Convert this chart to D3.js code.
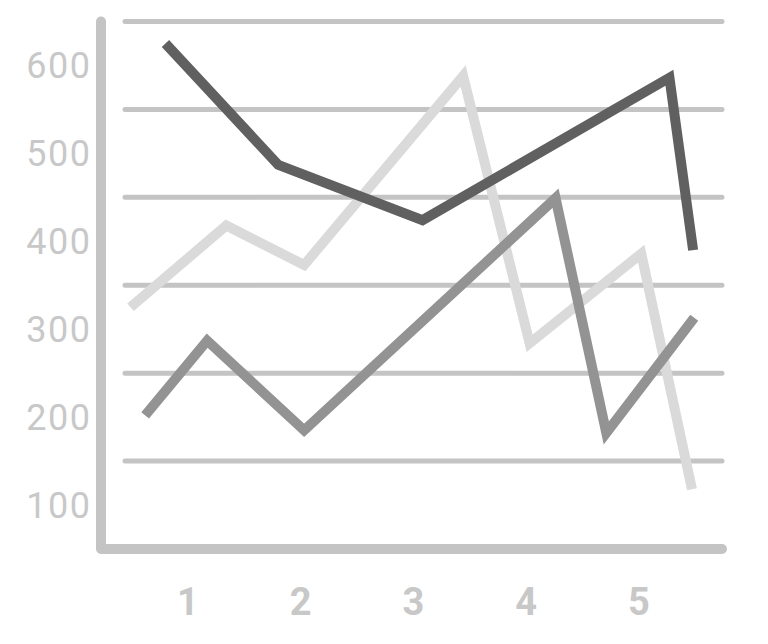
<!DOCTYPE html>
<html>
<head>
<meta charset="utf-8">
<script src="https://cdn.jsdelivr.net/npm/d3@7"></script>
<style>
  html, body { margin: 0; padding: 0; background: #ffffff; }
  svg { display: block; }
</style>
</head>
<body>
<script>
/* DATA */
var xTicks = [1, 2, 3, 4, 5];
var yTicks = [100, 200, 300, 400, 500, 600];
var gridValues = [150, 250, 350, 450, 550, 650];

var darkX = [0.8, 1.8, 3.08, 5.27, 5.48];
var darkY = [625, 487, 424, 586, 390];

var lightX = [0.49, 1.34, 2.03, 3.44, 4.03, 5.02, 5.47];
var lightY = [325, 418, 373, 588, 284, 386, 118];

var midX = [0.62, 1.17, 2.03, 4.26, 4.71, 5.49];
var midY = [202, 287, 185, 449, 182, 313];

/* LOOK */
var width = 768;
var height = 644;
var axisColor = '#c4c4c4';
var gridColor = '#c4c4c4';
var labelColor = '#c8c8c8';
var darkColor = '#606060';
var midColor = '#939393';
var lightColor = '#dadada';
var lineWidth = 10;

// plot frame (pixels)
var frameLeft = 101;
var frameRight = 722;
var gridLeft = 125;
var frameTop = 21.5;
var frameBottom = 549;

var x = d3.scaleLinear().domain([1, 5]).range([188, 639]);
var y = d3.scaleLinear().domain([50, 650]).range([frameBottom, frameTop]);

var svg = d3.select('body').append('svg')
    .attr('width', width)
    .attr('height', height);

svg.append('rect')
    .attr('width', width)
    .attr('height', height)
    .attr('fill', '#ffffff');

// grid lines
svg.append('g').selectAll('line')
    .data(gridValues)
    .join('line')
    .attr('x1', gridLeft)
    .attr('x2', frameRight)
    .attr('y1', d => y(d))
    .attr('y2', d => y(d))
    .attr('stroke', gridColor)
    .attr('stroke-width', 5)
    .attr('stroke-linecap', 'round');

// axes
svg.append('path')
    .attr('d', `M${frameLeft},${y(650)}V${y(50)}H${frameRight}`)
    .attr('fill', 'none')
    .attr('stroke', axisColor)
    .attr('stroke-width', 10)
    .attr('stroke-linecap', 'round')
    .attr('stroke-linejoin', 'round');

// y labels
svg.append('g').selectAll('text')
    .data(yTicks)
    .join('text')
    .attr('x', 91.5)
    .attr('y', d => y(d) + 12.8)
    .attr('text-anchor', 'end')
    .attr('fill', labelColor)
    .style('font', '36px Roboto')
    .style('letter-spacing', '1.5px')
    .text(d => d);

// x labels
svg.append('g').selectAll('text')
    .data(xTicks)
    .join('text')
    .attr('x', d => x(d))
    .attr('y', 615)
    .attr('text-anchor', 'middle')
    .attr('fill', labelColor)
    .style('font', 'bold 38px Roboto')
    .text(d => d);

// series
var lineGen = d3.line()
    .x(d => x(d[0]))
    .y(d => y(d[1]));

var series = [
    { xs: lightX, ys: lightY, color: lightColor },
    { xs: midX, ys: midY, color: midColor },
    { xs: darkX, ys: darkY, color: darkColor }
];

series.forEach(s => {
    svg.append('path')
        .datum(d3.zip(s.xs, s.ys))
        .attr('d', lineGen)
        .attr('fill', 'none')
        .attr('stroke', s.color)
        .attr('stroke-width', lineWidth)
        .attr('stroke-linejoin', 'miter')
        .attr('stroke-miterlimit', 10)
        .attr('stroke-linecap', 'butt');
});
</script>
</body>
</html>
